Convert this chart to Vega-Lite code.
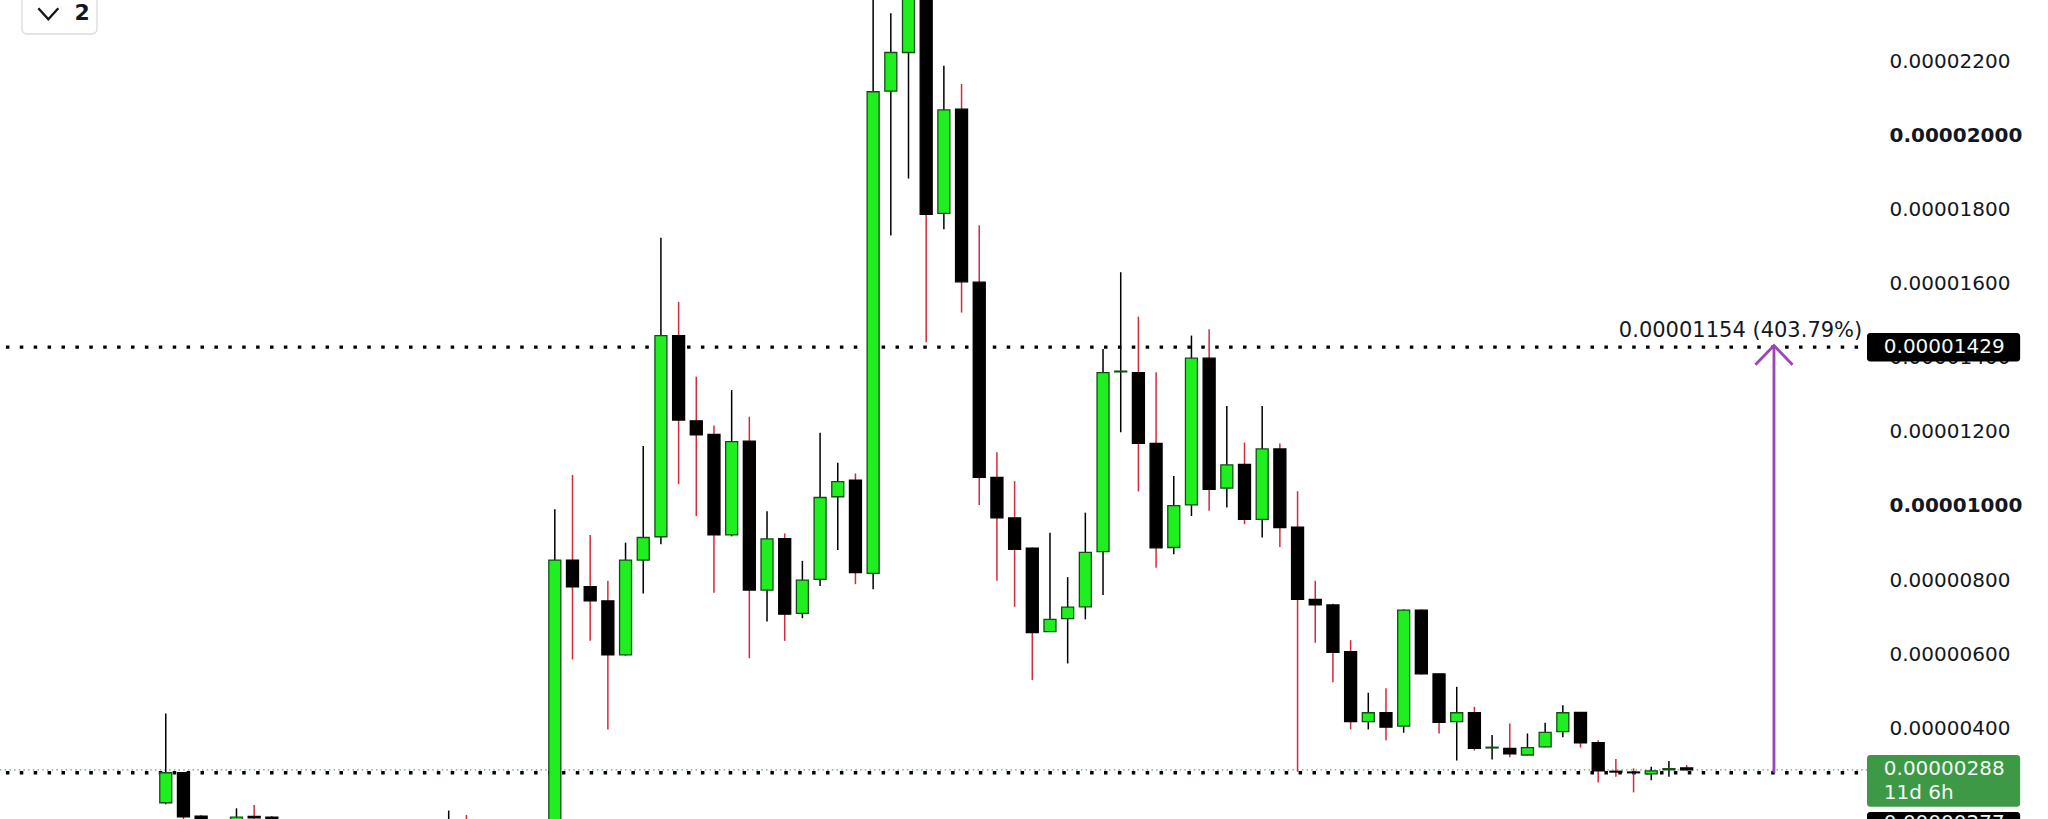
{
  "$schema": "https://vega.github.io/schema/vega-lite/v6.json",
  "width": 1872,
  "height": 819,
  "autosize": {"type": "none"},
  "padding": {"left": 0, "top": 0, "right": 176, "bottom": 0},
  "background": "#ffffff",
  "config": {"view": {"stroke": null}},
  "resolve": {"axis": {"x": "independent", "y": "independent"}},
  "datasets": {
    "candles": [
      {"t": 0, "o": 0.00000199, "h": 0.0000044, "l": 0.00000195, "c": 0.0000028},
      {"t": 1, "o": 0.0000028, "h": 0.00000282, "l": 0.00000145, "c": 0.00000161},
      {"t": 2, "o": 0.00000163, "h": 0.00000166, "l": 0.0000013, "c": 0.00000145},
      {"t": 3, "o": 0.0000014, "h": 0.0000015, "l": 0.00000125, "c": 0.00000135},
      {"t": 4, "o": 0.0000015, "h": 0.00000184, "l": 0.0000014, "c": 0.0000016},
      {"t": 5, "o": 0.00000162, "h": 0.00000193, "l": 0.00000145, "c": 0.00000158},
      {"t": 6, "o": 0.0000016, "h": 0.00000163, "l": 0.0000014, "c": 0.0000015},
      {"t": 7, "o": 0.00000145, "h": 0.00000152, "l": 0.0000013, "c": 0.00000135},
      {"t": 8, "o": 0.00000135, "h": 0.00000145, "l": 0.00000125, "c": 0.0000014},
      {"t": 9, "o": 0.0000014, "h": 0.00000148, "l": 0.00000128, "c": 0.00000132},
      {"t": 10, "o": 0.00000132, "h": 0.00000142, "l": 0.00000122, "c": 0.0000013},
      {"t": 11, "o": 0.0000013, "h": 0.0000014, "l": 0.0000012, "c": 0.00000136},
      {"t": 12, "o": 0.00000136, "h": 0.00000145, "l": 0.00000125, "c": 0.0000013},
      {"t": 13, "o": 0.0000013, "h": 0.00000138, "l": 0.0000012, "c": 0.00000128},
      {"t": 14, "o": 0.00000128, "h": 0.0000014, "l": 0.00000122, "c": 0.00000134},
      {"t": 15, "o": 0.00000134, "h": 0.00000144, "l": 0.00000125, "c": 0.0000013},
      {"t": 16, "o": 0.0000013, "h": 0.00000178, "l": 0.00000125, "c": 0.00000145},
      {"t": 17, "o": 0.00000145, "h": 0.00000166, "l": 0.00000128, "c": 0.00000132},
      {"t": 18, "o": 0.00000132, "h": 0.00000145, "l": 0.00000122, "c": 0.0000013},
      {"t": 19, "o": 0.0000013, "h": 0.0000014, "l": 0.0000012, "c": 0.00000135},
      {"t": 20, "o": 0.00000135, "h": 0.00000145, "l": 0.00000125, "c": 0.0000013},
      {"t": 21, "o": 0.0000013, "h": 0.00000142, "l": 0.00000122, "c": 0.00000133},
      {"t": 22, "o": 0.00000133, "h": 0.00000991, "l": 0.00000125, "c": 0.00000854},
      {"t": 23, "o": 0.00000854, "h": 0.00001084, "l": 0.00000586, "c": 0.00000782},
      {"t": 24, "o": 0.00000782, "h": 0.00000922, "l": 0.00000636, "c": 0.00000744},
      {"t": 25, "o": 0.00000744, "h": 0.00000798, "l": 0.00000397, "c": 0.00000598},
      {"t": 26, "o": 0.00000598, "h": 0.00000901, "l": 0.00000596, "c": 0.00000854},
      {"t": 27, "o": 0.00000854, "h": 0.00001162, "l": 0.00000764, "c": 0.00000915},
      {"t": 28, "o": 0.00000917, "h": 0.00001724, "l": 0.00000897, "c": 0.0000146},
      {"t": 29, "o": 0.0000146, "h": 0.00001551, "l": 0.00001059, "c": 0.00001232},
      {"t": 30, "o": 0.0000123, "h": 0.00001349, "l": 0.00000973, "c": 0.00001192},
      {"t": 31, "o": 0.00001193, "h": 0.00001217, "l": 0.00000766, "c": 0.00000922},
      {"t": 32, "o": 0.00000922, "h": 0.00001313, "l": 0.00000918, "c": 0.00001174},
      {"t": 33, "o": 0.00001175, "h": 0.00001241, "l": 0.00000589, "c": 0.00000773},
      {"t": 34, "o": 0.00000773, "h": 0.00000986, "l": 0.00000688, "c": 0.00000911},
      {"t": 35, "o": 0.00000912, "h": 0.00000926, "l": 0.00000636, "c": 0.00000708},
      {"t": 36, "o": 0.0000071, "h": 0.00000852, "l": 0.00000697, "c": 0.000008},
      {"t": 37, "o": 0.00000802, "h": 0.00001198, "l": 0.00000784, "c": 0.00001023},
      {"t": 38, "o": 0.00001025, "h": 0.00001117, "l": 0.00000881, "c": 0.00001066},
      {"t": 39, "o": 0.0000107, "h": 0.00001088, "l": 0.00000789, "c": 0.0000082},
      {"t": 40, "o": 0.00000818, "h": 0.0000248, "l": 0.00000775, "c": 0.00002118},
      {"t": 41, "o": 0.0000212, "h": 0.0000233, "l": 0.0000173, "c": 0.00002224},
      {"t": 42, "o": 0.00002224, "h": 0.0000258, "l": 0.00001884, "c": 0.0000246},
      {"t": 43, "o": 0.0000246, "h": 0.000026, "l": 0.00001442, "c": 0.00001787},
      {"t": 44, "o": 0.0000179, "h": 0.00002188, "l": 0.00001747, "c": 0.00002069},
      {"t": 45, "o": 0.00002071, "h": 0.00002139, "l": 0.00001522, "c": 0.00001605},
      {"t": 46, "o": 0.00001604, "h": 0.00001758, "l": 0.00001003, "c": 0.00001077},
      {"t": 47, "o": 0.00001077, "h": 0.00001145, "l": 0.00000798, "c": 0.00000968},
      {"t": 48, "o": 0.00000968, "h": 0.00001067, "l": 0.00000728, "c": 0.00000883},
      {"t": 49, "o": 0.00000886, "h": 0.00000888, "l": 0.0000053, "c": 0.00000658},
      {"t": 50, "o": 0.00000661, "h": 0.00000928, "l": 0.00000661, "c": 0.00000694},
      {"t": 51, "o": 0.00000696, "h": 0.00000808, "l": 0.00000575, "c": 0.00000727},
      {"t": 52, "o": 0.00000728, "h": 0.00000982, "l": 0.00000694, "c": 0.00000875},
      {"t": 53, "o": 0.00000877, "h": 0.00001424, "l": 0.0000076, "c": 0.0000136},
      {"t": 54, "o": 0.00001362, "h": 0.00001631, "l": 0.00001199, "c": 0.00001364},
      {"t": 55, "o": 0.0000136, "h": 0.00001511, "l": 0.00001039, "c": 0.00001169},
      {"t": 56, "o": 0.00001169, "h": 0.00001361, "l": 0.00000833, "c": 0.00000887},
      {"t": 57, "o": 0.00000888, "h": 0.00001081, "l": 0.0000087, "c": 0.00001001},
      {"t": 58, "o": 0.00001003, "h": 0.0000146, "l": 0.00000973, "c": 0.00001399},
      {"t": 59, "o": 0.00001399, "h": 0.00001477, "l": 0.00000987, "c": 0.00001045},
      {"t": 60, "o": 0.00001048, "h": 0.0000127, "l": 0.00000996, "c": 0.00001111},
      {"t": 61, "o": 0.00001112, "h": 0.00001171, "l": 0.00000951, "c": 0.00000964},
      {"t": 62, "o": 0.00000964, "h": 0.0000127, "l": 0.00000915, "c": 0.00001154},
      {"t": 63, "o": 0.00001154, "h": 0.00001169, "l": 0.00000889, "c": 0.00000942},
      {"t": 64, "o": 0.00000943, "h": 0.0000104, "l": 0.00000283, "c": 0.00000748},
      {"t": 65, "o": 0.00000748, "h": 0.00000798, "l": 0.00000631, "c": 0.00000733},
      {"t": 66, "o": 0.00000733, "h": 0.00000736, "l": 0.00000524, "c": 0.00000605},
      {"t": 67, "o": 0.00000607, "h": 0.00000638, "l": 0.00000397, "c": 0.00000418},
      {"t": 68, "o": 0.00000418, "h": 0.00000496, "l": 0.00000397, "c": 0.00000442},
      {"t": 69, "o": 0.00000442, "h": 0.00000508, "l": 0.00000368, "c": 0.00000403},
      {"t": 70, "o": 0.00000406, "h": 0.00000721, "l": 0.00000388, "c": 0.00000719},
      {"t": 71, "o": 0.00000719, "h": 0.00000721, "l": 0.00000545, "c": 0.00000547},
      {"t": 72, "o": 0.00000547, "h": 0.00000548, "l": 0.00000386, "c": 0.00000416},
      {"t": 73, "o": 0.00000418, "h": 0.00000512, "l": 0.00000313, "c": 0.00000442},
      {"t": 74, "o": 0.00000442, "h": 0.00000458, "l": 0.0000034, "c": 0.00000346},
      {"t": 75, "o": 0.00000347, "h": 0.00000382, "l": 0.00000316, "c": 0.00000349},
      {"t": 76, "o": 0.00000346, "h": 0.00000413, "l": 0.00000322, "c": 0.00000331},
      {"t": 77, "o": 0.00000328, "h": 0.00000386, "l": 0.00000327, "c": 0.00000348},
      {"t": 78, "o": 0.0000035, "h": 0.00000415, "l": 0.00000349, "c": 0.00000389},
      {"t": 79, "o": 0.00000391, "h": 0.00000462, "l": 0.00000376, "c": 0.00000442},
      {"t": 80, "o": 0.00000443, "h": 0.00000444, "l": 0.00000348, "c": 0.00000361},
      {"t": 81, "o": 0.00000361, "h": 0.00000368, "l": 0.00000254, "c": 0.00000285},
      {"t": 82, "o": 0.00000284, "h": 0.00000317, "l": 0.00000269, "c": 0.00000282},
      {"t": 83, "o": 0.00000282, "h": 0.00000292, "l": 0.00000227, "c": 0.0000028},
      {"t": 84, "o": 0.00000277, "h": 0.00000296, "l": 0.0000026, "c": 0.00000285},
      {"t": 85, "o": 0.00000288, "h": 0.00000312, "l": 0.00000269, "c": 0.00000291},
      {"t": 86, "o": 0.00000293, "h": 0.00000301, "l": 0.00000286, "c": 0.00000288}
    ]
  },
  "layer": [
    {
      "data": {"values": [{"p": 0.0000028}, {"p": 0.00001429}]},
      "mark": {"type": "rule", "stroke": "#000000", "strokeWidth": 3.3, "strokeDash": [3.5, 10.4], "strokeCap": "butt"},
      "encoding": {
        "y": {
          "field": "p", "type": "quantitative",
          "scale": {"domain": [0.000001552, 0.000023657], "nice": false, "zero": false},
          "axis": {
            "orient": "right", "title": null,
            "values": [0.000004, 0.000006, 0.000008, 0.000012, 0.000014, 0.000016, 0.000018, 0.000022],
            "format": ".8f", "domain": false, "ticks": false, "tickSize": 0, "grid": false,
            "labelPadding": 17, "labelFont": "DejaVu Sans", "labelFontSize": 20, "labelColor": "#131722",
            "labelAlign": "left", "labelBaseline": "middle", "labelOverlap": false, "labelBound": false, "labelFlush": false
          }
        }
      }
    },
    {
      "data": {"values": [{"p": 0.00000288}]},
      "mark": {"type": "rule", "stroke": "#6f9f7d", "strokeWidth": 1.3, "strokeDash": [1.5, 3.2]},
      "encoding": {
        "y": {
          "field": "p", "type": "quantitative",
          "scale": {"domain": [0.000001552, 0.000023657], "nice": false, "zero": false},
          "axis": {
            "orient": "right", "title": null,
            "values": [0.00001, 0.00002],
            "format": ".8f", "domain": false, "ticks": false, "tickSize": 0, "grid": false,
            "labelPadding": 17, "labelFont": "DejaVu Sans", "labelFontSize": 20, "labelFontWeight": "bold", "labelColor": "#131722",
            "labelAlign": "left", "labelBaseline": "middle", "labelOverlap": false, "labelBound": false, "labelFlush": false
          }
        }
      }
    },
    {
      "data": {"name": "candles"},
      "mark": {"type": "rule", "strokeWidth": 1.5, "clip": true},
      "encoding": {
        "x": {"field": "t", "type": "quantitative", "scale": {"domain": [-9.09, 96.2], "nice": false, "zero": false}, "axis": null},
        "y": {"field": "l", "type": "quantitative", "scale": {"domain": [0.000001552, 0.000023657], "nice": false, "zero": false}, "axis": null},
        "y2": {"field": "h"},
        "color": {"condition": {"test": "datum.c >= datum.o", "value": "#000000"}, "value": "#d32a3c"}
      }
    },
    {
      "data": {"name": "candles"},
      "mark": {"type": "bar", "width": 12, "strokeWidth": 1.3, "clip": true},
      "encoding": {
        "x": {"field": "t", "type": "quantitative", "scale": {"domain": [-9.09, 96.2], "nice": false, "zero": false}, "axis": null},
        "y": {"field": "o", "type": "quantitative", "scale": {"domain": [0.000001552, 0.000023657], "nice": false, "zero": false}, "axis": null},
        "y2": {"field": "c"},
        "fill": {"condition": {"test": "datum.c >= datum.o", "value": "#1fef1f"}, "value": "#000000"},
        "stroke": {"condition": {"test": "datum.c >= datum.o", "value": "#0f4f14"}, "value": "#000000"}
      }
    },
    {
      "data": {"values": [{"t": 90.94, "p": 0.0000028, "p2": 0.00001433}]},
      "mark": {"type": "rule", "stroke": "#9a45b8", "strokeWidth": 2.8},
      "encoding": {
        "x": {"field": "t", "type": "quantitative", "scale": {"domain": [-9.09, 96.2], "nice": false, "zero": false}, "axis": null},
        "y": {"field": "p", "type": "quantitative", "scale": {"domain": [0.000001552, 0.000023657], "nice": false, "zero": false}, "axis": null},
        "y2": {"field": "p2"}
      }
    },
    {
      "data": {"values": [{"t": 89.89, "p": 0.00001381, "k": 0}, {"t": 90.94, "p": 0.00001433, "k": 1}, {"t": 91.99, "p": 0.00001381, "k": 2}]},
      "mark": {"type": "line", "stroke": "#9a45b8", "strokeWidth": 2.8, "strokeCap": "butt", "strokeJoin": "miter"},
      "encoding": {
        "x": {"field": "t", "type": "quantitative", "scale": {"domain": [-9.09, 96.2], "nice": false, "zero": false}, "axis": null},
        "y": {"field": "p", "type": "quantitative", "scale": {"domain": [0.000001552, 0.000023657], "nice": false, "zero": false}, "axis": null},
        "order": {"field": "k", "type": "quantitative"}
      }
    },
    {
      "data": {"values": [{"t": 89.05, "p": 0.00001456, "label": "0.00001154 (403.79%)"}]},
      "mark": {"type": "text", "font": "DejaVu Sans", "fontSize": 21, "color": "#131722", "align": "center", "baseline": "alphabetic"},
      "encoding": {
        "x": {"field": "t", "type": "quantitative", "scale": {"domain": [-9.09, 96.2], "nice": false, "zero": false}, "axis": null},
        "y": {"field": "p", "type": "quantitative", "scale": {"domain": [0.000001552, 0.000023657], "nice": false, "zero": false}, "axis": null},
        "text": {"field": "label"}
      }
    },
    {
      "data": {"values": [
        {"t": 96.2, "t2": 104.86, "p": 0.0000139, "p2": 0.00001467, "kind": "high"},
        {"t": 96.2, "t2": 104.86, "p": 0.00000188, "p2": 0.00000328, "kind": "current"},
        {"t": 96.2, "t2": 104.86, "p": 0.0000009, "p2": 0.00000174, "kind": "low"}
      ]},
      "mark": {"type": "rect", "cornerRadius": 3, "clip": false},
      "encoding": {
        "x": {"field": "t", "type": "quantitative", "scale": {"domain": [-9.09, 96.2], "nice": false, "zero": false}, "axis": null},
        "x2": {"field": "t2"},
        "y": {"field": "p", "type": "quantitative", "scale": {"domain": [0.000001552, 0.000023657], "nice": false, "zero": false}, "axis": null},
        "y2": {"field": "p2"},
        "fill": {"field": "kind", "type": "nominal", "scale": {"domain": ["high", "current", "low"], "range": ["#000000", "#3d9946", "#000000"]}, "legend": null}
      }
    },
    {
      "data": {"values": [
        {"t": 97.15, "p": 0.00001429, "label": "0.00001429"},
        {"t": 97.15, "p": 0.0000029, "label": "0.00000288"},
        {"t": 97.15, "p": 0.00000225, "label": "11d 6h"},
        {"t": 97.15, "p": 0.00000144, "label": "0.00000277"}
      ]},
      "mark": {"type": "text", "font": "DejaVu Sans", "fontSize": 20, "align": "left", "baseline": "middle", "color": "#f4faf4", "clip": false},
      "encoding": {
        "x": {"field": "t", "type": "quantitative", "scale": {"domain": [-9.09, 96.2], "nice": false, "zero": false}, "axis": null},
        "y": {"field": "p", "type": "quantitative", "scale": {"domain": [0.000001552, 0.000023657], "nice": false, "zero": false}, "axis": null},
        "text": {"field": "label"}
      }
    },
    {
      "data": {"values": [{"t": -8.13, "t2": -3.89, "p": 0.00002274, "p2": 0.0000242}]},
      "mark": {"type": "rect", "fill": "#ffffff", "stroke": "#d9dce3", "strokeWidth": 1.3, "cornerRadius": 5, "clip": false},
      "encoding": {
        "x": {"field": "t", "type": "quantitative", "scale": {"domain": [-9.09, 96.2], "nice": false, "zero": false}, "axis": null},
        "x2": {"field": "t2"},
        "y": {"field": "p", "type": "quantitative", "scale": {"domain": [0.000001552, 0.000023657], "nice": false, "zero": false}, "axis": null},
        "y2": {"field": "p2"}
      }
    },
    {
      "data": {"values": [{"t": -6.64, "p": 0.000023285}]},
      "mark": {"type": "point", "shape": "M-1,-0.55L0,0.55L1,-0.55", "size": 400, "filled": false, "stroke": "#131722", "strokeWidth": 2.4, "opacity": 1},
      "encoding": {
        "x": {"field": "t", "type": "quantitative", "scale": {"domain": [-9.09, 96.2], "nice": false, "zero": false}, "axis": null},
        "y": {"field": "p", "type": "quantitative", "scale": {"domain": [0.000001552, 0.000023657], "nice": false, "zero": false}, "axis": null}
      }
    },
    {
      "data": {"values": [{"t": -4.73, "p": 0.000023306, "label": "2"}]},
      "mark": {"type": "text", "font": "DejaVu Sans", "fontSize": 22, "fontWeight": "bold", "color": "#131722", "align": "center", "baseline": "middle"},
      "encoding": {
        "x": {"field": "t", "type": "quantitative", "scale": {"domain": [-9.09, 96.2], "nice": false, "zero": false}, "axis": null},
        "y": {"field": "p", "type": "quantitative", "scale": {"domain": [0.000001552, 0.000023657], "nice": false, "zero": false}, "axis": null},
        "text": {"field": "label"}
      }
    }
  ]
}
